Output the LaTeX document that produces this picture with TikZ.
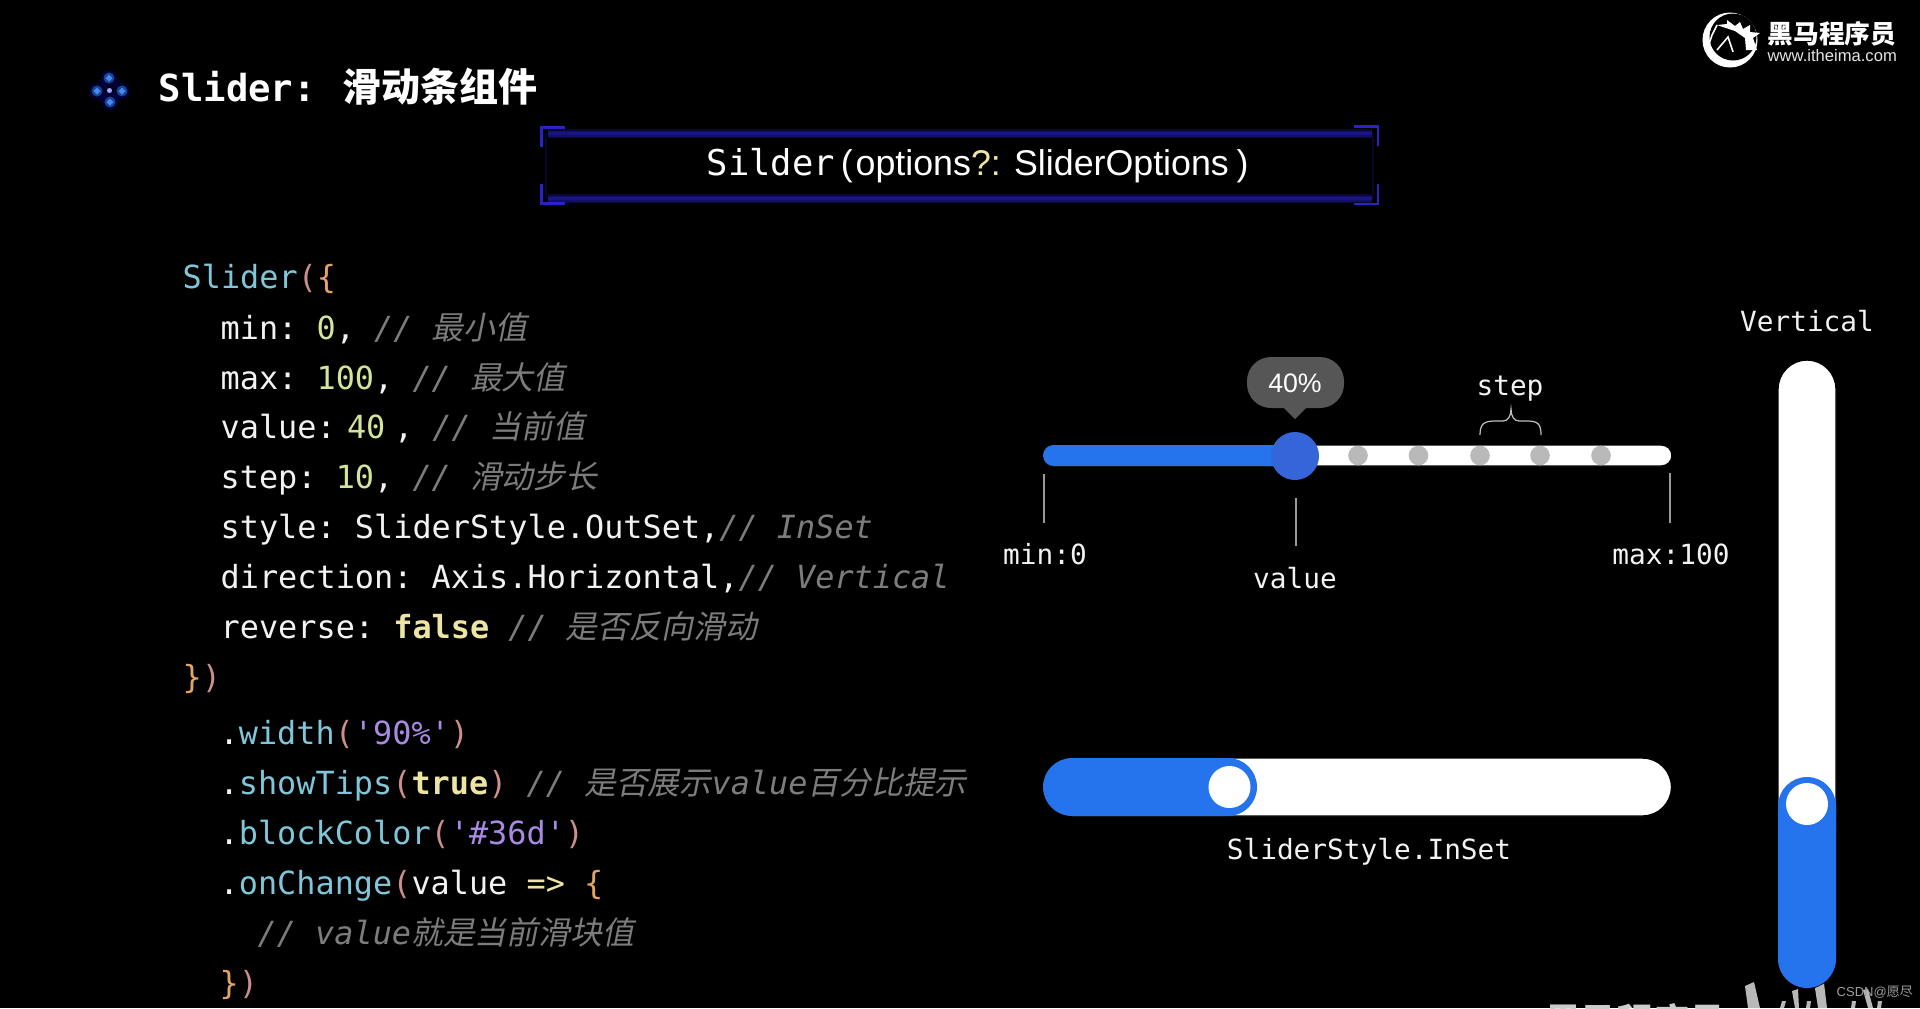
\documentclass[tikz,border=0pt]{standalone}
\usepackage{fontspec}
\setmonofont{DejaVu Sans Mono}
\setsansfont{Liberation Sans}
\newfontfamily\cjkfont{Noto Sans CJK SC}
\newfontfamily\cjkslant[FakeSlant=0.2]{Noto Sans CJK SC}
\definecolor{trackblue}{HTML}{2673EE}
\definecolor{thumbblue}{HTML}{3565D8}
\definecolor{stepgray}{HTML}{B9B9B9}
\definecolor{bubblegray}{HTML}{565656}
\definecolor{boxblue}{HTML}{2B22C4}
\definecolor{boxline}{HTML}{1A1580}
\definecolor{boxmid}{HTML}{120F66}
\definecolor{boxglow}{HTML}{0A0838}
\definecolor{boxside}{HTML}{07062A}
\definecolor{fncolor}{HTML}{80C6D8}
\definecolor{numcolor}{HTML}{D2E59A}
\definecolor{boolcolor}{HTML}{EDE5A4}
\definecolor{strcolor}{HTML}{A98AE2}
\definecolor{parencolor}{HTML}{CC8E8E}
\definecolor{bracecolor}{HTML}{E3A565}
\definecolor{notecolor}{HTML}{7C7C7C}
\def\codefn#1{\textcolor{fncolor}{#1}}
\def\codenum#1{\textcolor{numcolor}{#1}}
\def\codebool#1{\textcolor{boolcolor}{\bfseries #1}}
\def\codestr#1{\textcolor{strcolor}{#1}}
\def\codeparen#1{\textcolor{parencolor}{#1}}
\def\codebrace#1{\textcolor{bracecolor}{#1}}
\def\codenote#1{\textcolor{notecolor}{\itshape #1}}
\def\codecjk#1{\textcolor{notecolor}{\cjkslant #1}}
\tikzset{
	codeline/.style={anchor=base west, inner sep=0pt, text=white!95!black, font=\fontsize{9.06pt}{11pt}\ttfamily},
	sliderlabel/.style={inner sep=0pt, text=white!95!black, font=\fontsize{7.9pt}{10pt}\ttfamily},
	leader/.style={draw=white!60!black, line width=0.35pt, shorten >=0.2cm},
	track/.style={fill=white, rounded corners=0.105cm},
	fatrack/.style={fill=white, rounded corners=0.29cm},
}

\begin{document}
\begin{tikzpicture}[x=0.01cm,y=-0.01cm]
		%%%%% START %%%%%
		\useasboundingbox (0, 0) rectangle (1920, 1008);
		\fill[black] (0, 0) rectangle (1920, 1008);
		
		% title
		\foreach \dotx/\doty in {109/78, 97/91, 122/91, 110/102} {
			\fill[blue!22!black] (\dotx, \doty) circle (8);
			\fill[trackblue!60!black] (\dotx, \doty) circle (5.5);
			\fill[trackblue!85!white] (\dotx-3.5, \doty) -- (\dotx, \doty-3.5) -- (\dotx+3.5, \doty) -- (\dotx, \doty+3.5) -- cycle;
		}
		\draw[blue!45!black, line width=0.3pt] (99, 80) -- (120, 101);
		\draw[blue!45!black, line width=0.3pt] (120, 80) -- (99, 101);
		\fill[blue!35!white] (109.5, 90.5) circle (2.5);
		\node[anchor=base west, inner sep=0pt, text=white, font=\fontsize{10.6pt}{12pt}\ttfamily\bfseries] (title) at (158, 101) {Slider:};
		\node[anchor=base west, inner sep=0pt, text=white, font=\fontsize{11.1pt}{12pt}\cjkfont\bfseries] (titlecjk) at (342, 101) {滑动条组件};
		
		% logo
		\fill[white] (1730, 40) circle (27.5);
		\fill[black] (1733, 37) circle (23.5);
		\fill[white] (1717, 25) -- (1727, 24) -- (1727, 20) -- (1735, 26) -- (1740, 22) -- (1743, 29) -- (1750, 25) -- (1750, 32) -- (1760, 33) -- (1753, 38) -- (1757, 50) -- (1746, 50) -- (1745, 38) -- (1735, 31) -- cycle;
		\draw[white, line width=0.45pt] (1708, 47) -- (1712, 35) -- (1717, 25);
		\draw[white, line width=0.45pt] (1717, 50) -- (1728, 37) -- (1733, 52);
		\node[anchor=base west, inner sep=0pt, text=white, font=\fontsize{7.3pt}{9pt}\cjkfont\bfseries] (logoname) at (1767, 43) {黑马程序员};
		\node[anchor=base west, inner sep=0pt, text=white!90!black, font=\fontsize{4.72pt}{6pt}\sffamily] (logourl) at (1767, 61) {www.itheima.com};
		
		% signature box
		\draw[boxglow, line width=2.8pt] (548, 133.5) -- (1372, 133.5);
		\draw[boxglow, line width=2.8pt] (548, 198.5) -- (1372, 198.5);
		\draw[boxmid, line width=1.7pt] (548, 133.5) -- (1372, 133.5);
		\draw[boxmid, line width=1.7pt] (548, 198.5) -- (1372, 198.5);
		\draw[boxline, line width=0.7pt] (548, 133.5) -- (1372, 133.5);
		\draw[boxline, line width=0.7pt] (548, 198.5) -- (1372, 198.5);
		\draw[boxside, line width=0.3pt] (546, 133) -- (546, 199);
		\draw[boxside, line width=0.3pt] (1373, 133) -- (1373, 199);
		\draw[boxblue, line width=0.6pt] (565, 127.5) -- (541.5, 127.5) -- (541.5, 147);
		\draw[boxblue, line width=0.6pt] (565, 203.5) -- (541.5, 203.5) -- (541.5, 184);
		\draw[boxblue, line width=0.6pt] (1354, 126.5) -- (1378, 126.5) -- (1378, 146);
		\draw[boxblue, line width=0.6pt] (1354, 204) -- (1378, 204) -- (1378, 184);
		\node[anchor=base west, inner sep=0pt, text=white, font=\fontsize{10.17pt}{12pt}\sffamily] (signature) at (706, 175.5) {{\ttfamily\fontsize{10.1pt}{12pt}\selectfont Silder}\,(\kern0.08em options\textcolor{boolcolor}{?:} SliderOptions\kern0.22em)};
		
		% code
		\node[codeline] (line01) at (182, 288.5) {\codefn{Slider}\codeparen{(}\codebrace{\{}};
		\node[codeline] (line02) at (220, 339) {min: \codenum{0}, \codenote{//} \codecjk{最小值}};
		\node[codeline] (line03) at (220, 389) {max: \codenum{100}, \codenote{//} \codecjk{最大值}};
		\node[codeline] (line04) at (220, 438) {value:\kern-0.25em{} \codenum{40}\kern-0.33em{} , \codenote{//} \codecjk{当前值}};
		\node[codeline] (line05) at (220, 488) {step: \codenum{10}, \codenote{//} \codecjk{滑动步长}};
		\node[codeline] (line06) at (220, 538) {style: SliderStyle.OutSet,\codenote{// InSet}};
		\node[codeline] (line07) at (220, 588) {direction: Axis.Horizontal,\codenote{// Vertical}};
		\node[codeline] (line08) at (220, 638) {reverse: \codebool{false} \codenote{//} \codecjk{是否反向滑动}};
		\node[codeline] (line09) at (182, 688) {\codebrace{\}}\codeparen{)}};
		\node[codeline] (line10) at (219, 744) {.\codefn{width}\codeparen{(}\codestr{'90\%'}\codeparen{)}};
		\node[codeline] (line11) at (219, 794) {.\codefn{showTips}\codeparen{(}\codebool{true}\codeparen{)} \codenote{//} \codecjk{是否展示}\codenote{value}\codecjk{百分比提示}};
		\node[codeline] (line12) at (219, 844) {.\codefn{blockColor}\codeparen{(}\codestr{'\#36d'}\codeparen{)}};
		\node[codeline] (line13) at (219, 894) {.\codefn{onChange}\codeparen{(}value \textcolor{boolcolor}{=>} \codebrace{\{}};
		\node[codeline] (line14) at (257, 944) {\codenote{// value}\codecjk{就是当前滑块值}};
		\node[codeline] (line15) at (219, 994) {\codebrace{\}}\codeparen{)}};
		
		% outset slider
		\draw[track] (1043, 445) rectangle (1672, 466);
		\fill[trackblue, rounded corners=0.105cm] (1043, 445) rectangle (1300, 466);
		\foreach \stepx in {1358, 1418.5, 1480, 1540, 1601} {
			\fill[stepgray] (\stepx, 455.5) circle (9.8);
		}
		\fill[thumbblue] (1295, 456) circle (24);
		\fill[bubblegray, rounded corners=0.24cm] (1247, 357) rectangle (1344, 408);
		\fill[bubblegray] (1283, 407) -- (1295, 419) -- (1307, 407) -- cycle;
		\node[inner sep=0pt, text=white, font=\fontsize{7.6pt}{9pt}\sffamily] (tip) at (1295, 383) {40\%};
		\node[sliderlabel] (steplabel) at (1510, 388.5) {step};
		\draw[white!75!black, line width=0.35pt] (1480, 435) .. controls (1480, 424) and (1484, 421) .. (1495, 421) -- (1503, 421) .. controls (1508, 421) and (1511, 416) .. (1511, 409) .. controls (1511, 416) and (1514, 421) .. (1519, 421) -- (1527, 421) .. controls (1538, 421) and (1541, 424) .. (1541, 435);
		
		\coordinate (mintop) at (1044, 474);
		\coordinate (valuetop) at (1296, 498);
		\coordinate (maxtop) at (1670, 473);
		\node[sliderlabel] (minlabel) at (1045, 554) {min:0};
		\node[sliderlabel] (valuelabel) at (1295, 578) {value};
		\node[sliderlabel] (maxlabel) at (1671, 554) {max:100};
		\draw[leader] (mintop) -- (minlabel.north -| mintop);
		\draw[leader] (valuetop) -- (valuelabel.north -| valuetop);
		\draw[leader] (maxtop) -- (maxlabel.north -| maxtop);
		
		% inset slider
		\draw[fatrack] (1043, 758) rectangle (1671.5, 816);
		\fill[trackblue, rounded corners=0.29cm] (1043, 758) rectangle (1257, 816);
		\fill[white] (1229.5, 787) circle (21);
		\node[sliderlabel] (insetlabel) at (1369, 851.5) {SliderStyle.InSet};
		
		% video watermark
		\begin{scope}
			\clip (0, 0) rectangle (1920, 1008);
			\node[anchor=base west, inner sep=0pt, text=white!80!black, font=\fontsize{10.2pt}{12pt}\cjkfont\bfseries] (watermark) at (1545, 1034) {黑马程序员};
			\fill[white!72!black] (1745, 986) -- (1754, 982) -- (1760, 1008) -- (1748, 1008) -- cycle;
			\fill[white!72!black] (1792, 991) -- (1798, 989) -- (1799, 1008) -- (1795, 1008) -- cycle;
			\fill[white!72!black] (1815, 988) -- (1824, 983) -- (1827, 1008) -- (1818, 1008) -- cycle;
			\fill[white!72!black] (1863, 990) -- (1868, 989) -- (1873, 1008) -- (1868, 1008) -- cycle;
			\fill[white!72!black] (1782, 1001) -- (1786, 1001) -- (1784, 1008) -- (1780, 1008) -- cycle;
			\fill[white!72!black] (1807, 1001) -- (1811, 1001) -- (1810, 1008) -- (1806, 1008) -- cycle;
			\fill[white!72!black] (1852, 1001) -- (1856, 1001) -- (1855, 1008) -- (1851, 1008) -- cycle;
			\fill[white!72!black] (1878, 1001) -- (1882, 1001) -- (1881, 1008) -- (1877, 1008) -- cycle;
		\end{scope}
		
		% vertical slider
		\node[sliderlabel] (verticallabel) at (1807, 321) {Vertical};
		\draw[fatrack] (1778, 360) rectangle (1836, 988);
		\fill[trackblue, rounded corners=0.29cm] (1778, 777) rectangle (1836, 988);
		\fill[white] (1807, 804) circle (21);
		
		\node[anchor=base west, inner sep=0pt, text=white!62!black, font=\fontsize{3.7pt}{5pt}\sffamily] (csdn) at (1836, 996) {CSDN@{\cjkfont 愿尽}};
		%%%%% END %%%%%
	\end{tikzpicture}
\end{document}
